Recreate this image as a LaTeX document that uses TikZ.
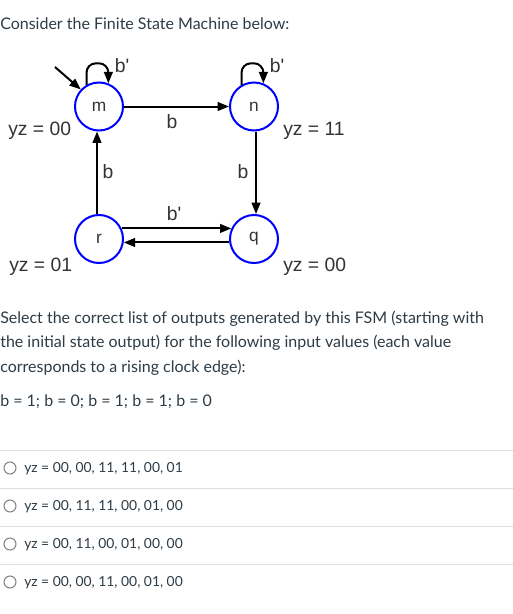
\documentclass[tikz,border=0pt]{standalone}
\usepackage{fontspec}
\setmainfont{Lato}
\newfontfamily\arialf{Liberation Sans}
\usetikzlibrary{arrows.meta,calc}
\definecolor{txt}{HTML}{2D3B45}
\definecolor{sepc}{HTML}{DDDDDD}
\definecolor{dg}{HTML}{333333}
\begin{document}
\begin{tikzpicture}[x=0.75pt,y=-0.75pt,
  state/.style={circle,draw=blue,line width=1.5pt,minimum size=36pt,inner sep=0pt,
    font=\arialf\fontsize{13}{15}\selectfont,text=dg},
  arr/.style={-{Triangle[length=8.5pt,width=6.5pt]},line width=1.5pt,black},
  dlab/.style={font=\arialf\fontsize{14.5}{17}\selectfont,text=dg,inner sep=0pt},
  qtext/.style={font=\fontsize{12}{15}\selectfont,text=txt,inner sep=0pt,anchor=base west},
  otext/.style={font=\fontsize{10.4}{12}\selectfont,text=txt,inner sep=0pt,anchor=base west},
  radio/.style={circle,draw=gray,line width=0.75pt,minimum size=9pt,inner sep=0pt},
  sepline/.style={draw=sepc,line width=0.75pt}]
\useasboundingbox (0,0) rectangle (513,614);

\node[qtext] (head) at (0,29) {Consider the Finite State Machine below:};

% states
\node[state] (m) at (99,106.5) {m};
\node[state] (n) at (254,106.5) {n};
\node[state] (r) at (99,239) {r};
\node[state] (q) at (254,239) {q};

% output labels
\node[dlab,anchor=base west] (lm) at (8,135) {yz = 00};
\node[dlab,anchor=base west] (ln) at (283,135) {yz = 11};
\node[dlab,anchor=base west] (lr) at (9,271.5) {yz = 01};
\node[dlab,anchor=base west] (lq) at (283,271.5) {yz = 00};

% initial arrow
\coordinate (init) at (55,67);
\draw[arr] (init) -- (m.137);

% self loops
\draw[arr,rounded corners=7pt] (m.120) |- ($(m.68)+(0,-20)$) -- (m.68);
\node[dlab] (lbm) at (122,66) {b'};
\draw[arr,rounded corners=7pt] (n.120) |- ($(n.68)+(0,-20)$) -- (n.68);
\node[dlab] (lbn) at (277,66) {b'};

% transitions
\draw[arr] (m.east) -- (n.west);
\node[dlab] (l1) at (172,122) {b};
\draw[arr] ($(n.south)+(2,0)$) -- ($(q.north)+(2,0)$);
\node[dlab] (l2) at (243,172) {b};
\draw[arr] ($(r.north)+(-2,0)$) -- ($(m.south)+(-2,0)$);
\node[dlab] (l3) at (108,172) {b};
\draw[arr] (r.25) -- (q.155);
\node[dlab] (l4) at (174,214) {b'};
\draw[arr] (q.188) -- (r.-8);

% question text
\node[qtext] (p1) at (0,323) {Select the correct list of outputs generated by this FSM (starting with};
\node[qtext] (p2) at (0,347.5) {the initial state output) for the following input values (each value};
\node[qtext] (p3) at (0,372) {corresponds to a rising clock edge):};
\node[qtext] (p4) at (0,406.5) {b = 1; b = 0; b = 1; b = 1; b = 0};

% options
\draw[sepline] (0,450) -- (513,450);
\draw[sepline] (0,488.3) -- (513,488.3);
\draw[sepline] (0,526.3) -- (513,526.3);
\draw[sepline] (0,564.3) -- (513,564.3);

\node[radio] (c1) at (10,468) {};
\node[otext] (o1) at (24,472) {yz = 00, 00, 11, 11, 00, 01};
\node[radio] (c2) at (10,506) {};
\node[otext] (o2) at (24,510) {yz = 00, 11, 11, 00, 01, 00};
\node[radio] (c3) at (10,544) {};
\node[otext] (o3) at (24,548) {yz = 00, 11, 00, 01, 00, 00};
\node[radio] (c4) at (10,582) {};
\node[otext] (o4) at (24,586) {yz = 00, 00, 11, 00, 01, 00};
\end{tikzpicture}
\end{document}
